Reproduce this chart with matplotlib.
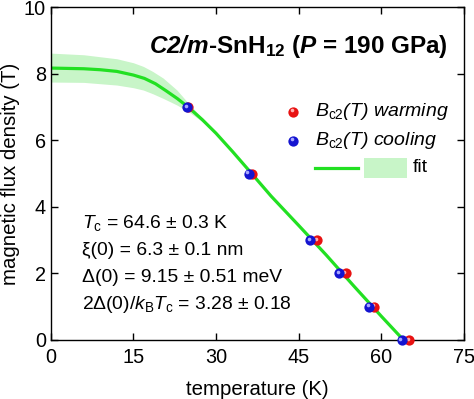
import numpy as np
import matplotlib
matplotlib.use('Agg')
import matplotlib.pyplot as plt
from matplotlib.transforms import offset_copy

plt.rcParams['font.family'] = ['Liberation Sans', 'DejaVu Sans']
plt.rcParams['mathtext.fontset'] = 'custom'
plt.rcParams['mathtext.rm'] = 'Liberation Sans'
plt.rcParams['mathtext.it'] = 'Liberation Sans:italic'
plt.rcParams['mathtext.bf'] = 'Liberation Sans:bold'
plt.rcParams['mathtext.bfit'] = 'Liberation Sans:italic:bold'

# measured points (K, T)
warm_T = [25.0, 36.5, 48.3, 53.5, 58.7, 65.1]
warm_B = [7, 5, 3, 2, 1, 0]
cool_T = [24.8, 35.9, 47.1, 52.4, 57.8, 63.7]
cool_B = [7, 5, 3, 2, 1, 0]

# fit curve and confidence band
fit_T = [0, 3, 6, 9, 12, 15, 17, 19, 21, 23, 25, 27.5, 30, 33, 36.2,
         40, 45, 50, 55, 60, 64.0]
fit_B = [8.17, 8.16, 8.15, 8.12, 8.07, 7.96, 7.86, 7.70, 7.48, 7.25, 6.99,
         6.62, 6.21, 5.66, 5.05, 4.32, 3.44, 2.55, 1.62, 0.71, 0.0]
band_T = [0, 6, 12, 15, 16.8, 18.5, 20.4, 22.9, 25, 28]
band_hi = [8.62, 8.57, 8.45, 8.33, 8.22, 8.07, 7.87, 7.51, 7.11, 6.58]
band_lo = [7.75, 7.74, 7.66, 7.58, 7.51, 7.40, 7.26, 7.06, 6.86, 6.50]

params = [r'$T_\mathregular{c}$ = 64.6 ± 0.3 K',
          'ξ(0) = 6.3 ± 0.1 nm',
          'Δ(0) = 9.15 ± 0.51 meV',
          r'2Δ(0)/$k_\mathregular{B}T_\mathregular{c}$ = 3.28 ± 0.18']

green = '#22e022'
band_c = '#c8f5c8'
red, red_hi = '#e81212', '#ffb0b0'
blue, blue_hi = '#1414d0', '#a8a8ff'

fig = plt.figure(figsize=(4.74, 3.99), dpi=100)
ax = fig.add_axes([0.107, 0.148, 0.872, 0.834])

ax.fill_between(band_T, band_lo, band_hi, color=band_c, lw=0, zorder=1)
ax.plot(fit_T, fit_B, color=green, lw=2.3, zorder=2, solid_capstyle='butt',
        solid_joinstyle='round')


def spheres(x, y, base, light, z, trans=None):
    trans = ax.transData if trans is None else trans
    ax.plot(x, y, 'o', ms=7.4, color=base, mew=0, zorder=z,
            clip_on=False, transform=trans)
    tr = offset_copy(trans, fig=fig, x=-1.0, y=1.0, units='points')
    ax.plot(x, y, 'o', ms=2.6, color=light, mew=0, zorder=z + 0.1,
            transform=tr, clip_on=False)


spheres(warm_T, warm_B, red, red_hi, 3)
spheres(cool_T, cool_B, blue, blue_hi, 4)

ax.set_xlim(0, 75)
ax.set_ylim(0, 10)
ax.set_xticks(np.arange(0, 76, 15))
ax.set_yticks(np.arange(0, 11, 2))
ax.tick_params(direction='in', length=5, width=1, top=True, right=True,
               labelsize=14.3)
ax.tick_params(axis='x', pad=6)
ax.tick_params(axis='y', pad=3.5)
for s in ax.spines.values():
    s.set_linewidth(1)
ax.set_xlabel('temperature (K)', fontsize=14.7, labelpad=9)
ax.set_ylabel('magnetic flux density (T)', fontsize=14.7, labelpad=3)

ax.text(0.962, 0.862,
        r'$\mathbfit{C2/m}$-SnH$_{\mathbf{12}}$ ($\mathbfit{P}$ = 190 GPa)',
        transform=ax.transAxes, ha='right', va='baseline',
        fontsize=17.5, fontweight='bold')

# legend built by hand to follow the original layout
rows = [0.686, 0.599]
labels = [r'$B_\mathrm{c2}$($T$) warming', r'$B_\mathrm{c2}$($T$) cooling']
cols = [(red, red_hi), (blue, blue_hi)]
for yy, lab, (c, lc) in zip(rows, labels, cols):
    spheres([0.586], [yy], c, lc, 5, trans=ax.transAxes)
    ax.text(0.64, yy, lab, transform=ax.transAxes, fontsize=14,
            style='italic', va='center')
yf = 0.517
ax.plot([0.64, 0.743], [yf, yf], color=green, lw=2.3, transform=ax.transAxes)
ax.add_patch(plt.Rectangle((0.758, yf - 0.03), 0.104, 0.06, color=band_c,
                           transform=ax.transAxes, lw=0))
ax.text(0.877, yf, 'fit', transform=ax.transAxes, fontsize=14, va='center')

for i, line in enumerate(params):
    ax.text(0.075, 0.337 - i * 0.081, line, transform=ax.transAxes,
            fontsize=13.9, va='baseline')

fig.savefig('out.png', dpi=100)
